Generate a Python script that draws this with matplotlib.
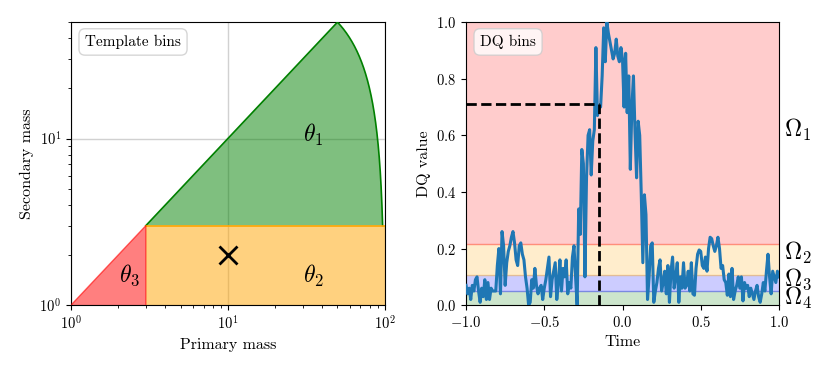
import numpy as np
import matplotlib
matplotlib.use('Agg')
from matplotlib import pyplot as plt

plt.rcParams['font.family'] = 'serif'
plt.rcParams['font.serif'] = ['cmr10']
plt.rcParams['mathtext.fontset'] = 'cm'
plt.rcParams['axes.formatter.use_mathtext'] = True
plt.rcParams['font.size'] = 11
plt.rcParams['axes.labelsize'] = 11.5
plt.rcParams['xtick.labelsize'] = 10.5
plt.rcParams['ytick.labelsize'] = 10.5

# Template bins (masses)
mass_min = 3.0
mass_max_total = 100.0
cross_point = (10.0, 2.0)

# DQ bins
dq_edges = [0.0, 0.05, 0.105, 0.215, 1.0]
dq_colors = ['green', 'blue', 'orange', 'red']
dq_names = [r'$\Omega_4$', r'$\Omega_3$', r'$\Omega_2$', r'$\Omega_1$']
dq_label_y = [0.025, 0.09, 0.185, 0.62]

# DQ time series
dq_values = [
    0.07, 0.04, 0.06, 0.02, 0.07, 0.05, 0.09, 0.10, 0.05, 0.01,
    0.06, 0.03, 0.09, 0.02, 0.08, 0.02, 0.06, 0.05, 0.05, 0.05,
    0.14, 0.20, 0.04, 0.26, 0.21, 0.07, 0.15, 0.19, 0.21, 0.24,
    0.26, 0.22, 0.16, 0.14, 0.21, 0.22, 0.18, 0.16, 0.10, 0.06,
    0.00, 0.01, 0.09, 0.06, 0.13, 0.07, 0.04, 0.06, 0.07, 0.02,
    0.06, 0.09, 0.13, 0.17, 0.03, 0.09, 0.12, 0.15, 0.02, 0.08,
    0.16, 0.05, 0.13, 0.10, 0.16, 0.04, 0.08, 0.06, 0.17, 0.21,
    0.10, 0.00, 0.34, 0.25, 0.55, 0.50, 0.10, 0.45, 0.60, 0.62,
    0.46, 0.58, 0.62, 0.91, 0.67, 0.70, 0.70, 0.81, 0.98, 0.86,
    1.00, 0.96, 0.93, 0.90, 0.87, 0.89, 0.94, 0.88, 0.86, 0.91,
    0.87, 0.70, 0.89, 0.68, 0.81, 0.48, 0.70, 0.81, 0.61, 0.45,
    0.65, 0.60, 0.39, 0.15, 0.39, 0.32, 0.02, 0.10, 0.21, 0.22,
    0.01, 0.05, 0.08, 0.13, 0.16, 0.05, 0.08, 0.12, 0.04, 0.14,
    0.01, 0.12, 0.17, 0.06, 0.10, 0.15, 0.01, 0.10, 0.06, 0.15,
    0.06, 0.07, 0.12, 0.05, 0.15, 0.04, 0.035, 0.13, 0.18, 0.195,
    0.19, 0.14, 0.13, 0.17, 0.12, 0.20, 0.24, 0.235, 0.21, 0.19,
    0.21, 0.24, 0.20, 0.13, 0.14, 0.09, 0.08, 0.035, 0.11, 0.03,
    0.13, 0.02, 0.05, 0.07, 0.10, 0.06, 0.10, 0.015, 0.08, 0.06,
    0.07, 0.03, 0.06, 0.04, 0.02, 0.05, 0.07, 0.03, 0.01, 0.04,
    0.08, 0.05, 0.12, 0.18, 0.10, 0.04, 0.12, 0.10, 0.08, 0.12,
    0.10,
]
dq_times = np.linspace(-1, 1, len(dq_values))
event_time = -0.15
event_value = 0.71

fig = plt.figure(figsize=(8.3, 3.69), dpi=100)
ax1 = fig.add_axes([0.0855, 0.173, 0.378, 0.767])
ax2 = fig.add_axes([0.5615, 0.173, 0.377, 0.767])

# ---- Left panel: template bins
m1_curve = np.linspace(mass_max_total / 2, mass_max_total - mass_min, 200)
m2_curve = mass_max_total - m1_curve
green_x = np.concatenate([[mass_min, mass_max_total / 2], m1_curve, [mass_min]])
green_y = np.concatenate([[mass_min, mass_max_total / 2], m2_curve, [mass_min]])
ax1.fill(green_x, green_y, facecolor='green', alpha=0.5, zorder=2)
ax1.plot(green_x[:-1], green_y[:-1], color='green', lw=1.2, zorder=3)

ax1.fill([mass_min, mass_max_total, mass_max_total, mass_min],
         [1, 1, mass_min, mass_min], facecolor='orange', alpha=0.5, zorder=2)
ax1.plot([mass_min, mass_max_total], [mass_min, mass_min], color='orange', lw=1.2, zorder=3)

ax1.fill([1, mass_min, mass_min], [1, mass_min, 1], facecolor='red', alpha=0.5, zorder=2)
ax1.plot([1, mass_min, mass_min], [1, mass_min, 1], color='red', lw=1.0, alpha=0.6, zorder=3)

ax1.plot(*cross_point, marker='x', color='black', ms=13, mew=2, zorder=4)

ax1.set_xscale('log')
ax1.set_yscale('log')
ax1.set_xlim(1, 100)
ax1.set_ylim(1, 50)
ax1.grid(True, which='major', color='0.82', lw=1, zorder=1)
ax1.set_axisbelow(True)
ax1.set_xlabel('Primary mass')
ax1.set_ylabel('Secondary mass')

ax1.text(35, 10.5, r'$\theta_1$', fontsize=17, ha='center', va='center', zorder=5)
ax1.text(35, 1.5, r'$\theta_2$', fontsize=17, ha='center', va='center', zorder=5)
ax1.text(2.35, 1.52, r'$\theta_3$', fontsize=17, ha='center', va='center', zorder=5)
ax1.text(0.045, 0.93, 'Template bins', transform=ax1.transAxes, ha='left', va='center',
         bbox=dict(boxstyle='round,pad=0.4', fc='white', ec='0.8', alpha=0.8), zorder=6)

# ---- Right panel: DQ bins
for lo, hi, col in zip(dq_edges[:-1], dq_edges[1:], dq_colors):
    ax2.axhspan(lo, hi, facecolor=col, alpha=0.2, lw=0, zorder=1)
    if lo > 0:
        ax2.axhline(lo, color=col, alpha=0.4, lw=1, zorder=1)

ax2.plot(dq_times, dq_values, color='C0', lw=2.2, zorder=3)
ax2.plot([-1, event_time], [event_value, event_value], 'k--', lw=2, zorder=4)
ax2.plot([event_time, event_time], [0, event_value], 'k--', lw=2, zorder=4)

ax2.set_xlim(-1, 1)
ax2.set_ylim(0, 1)
ax2.set_xticks([-1.0, -0.5, 0.0, 0.5, 1.0])
ax2.set_yticks([0.0, 0.2, 0.4, 0.6, 0.8, 1.0])
ax2.set_xlabel('Time')
ax2.set_ylabel('DQ value')

for name, yv in zip(dq_names, dq_label_y):
    ax2.text(1.015, yv, name, transform=ax2.get_yaxis_transform(), fontsize=17,
             ha='left', va='center')

ax2.text(0.045, 0.93, 'DQ bins', transform=ax2.transAxes, ha='left', va='center',
         bbox=dict(boxstyle='round,pad=0.4', fc='white', ec='0.8', alpha=0.8), zorder=6)

fig.savefig('out.png', dpi=100)
